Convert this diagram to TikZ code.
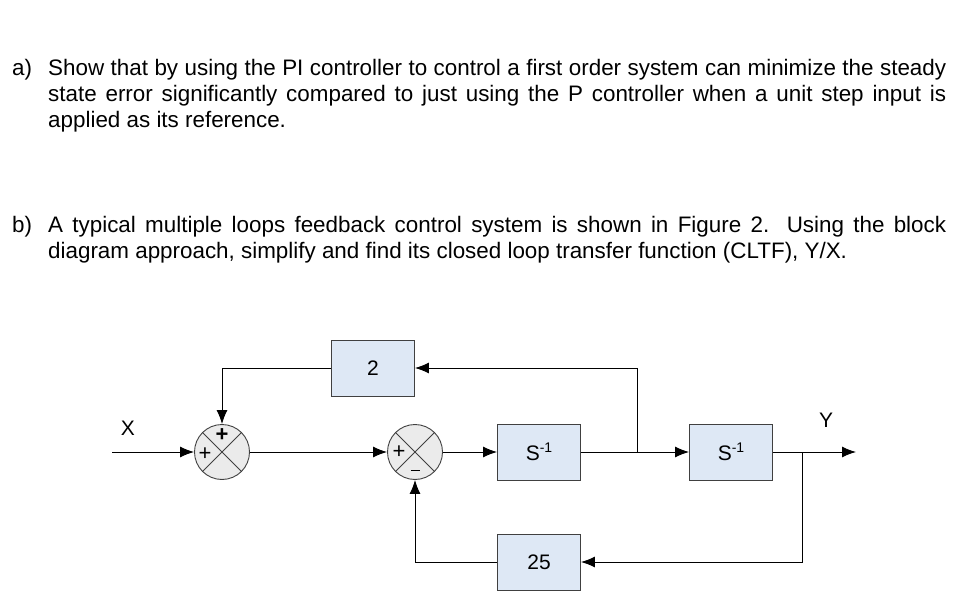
\documentclass[tikz,border=0pt]{standalone}
\usepackage{fontspec}
\setmainfont{Liberation Sans}
\usetikzlibrary{arrows.meta}
\definecolor{bfill}{rgb}{0.87,0.91,0.96}
\begin{document}
\begin{tikzpicture}[x=1pt,y=-1pt,
  blk/.style={draw=black!75,fill=bfill,line width=0.9pt,minimum width=83pt,minimum height=56pt,inner sep=0pt,font=\fontsize{21}{24}\selectfont},
  sumn/.style={draw=black!75,fill=black!8,line width=0.9pt,circle,minimum size=55pt,inner sep=0pt},
  par/.style={anchor=north west,text width=898pt,align=justify,font=\fontsize{22.4}{26}\selectfont,inner sep=0pt},
  sig/.style={-{Latex[length=14pt,width=11pt]},line width=1pt},
  pl/.style={font=\fontsize{22}{22}\selectfont}]
\useasboundingbox (0,0) rectangle (962,607);
\node[anchor=north west,inner sep=0pt,font=\fontsize{22.4}{26}\selectfont] (la) at (12,59) {a)};
\node[par] (pa) at (48,59) {Show that by using the PI controller to control a first order system can minimize the steady state error significantly compared to just using the P controller when a unit step input is applied as its reference.};
\node[anchor=north west,inner sep=0pt,font=\fontsize{22.4}{26}\selectfont] (lb) at (12,216) {b)};
\node[par] (pb) at (48,216) {A typical multiple loops feedback control system is shown in Figure 2. Using the block diagram approach, simplify and find its closed loop transfer function (CLTF), Y/X.};

\node[sumn] (s1) at (222,452) {};
\node[sumn] (s2) at (415,452) {};
\foreach \s in {s1,s2}{
  \draw[black!75,line width=0.9pt] (\s.north west) -- (\s.south east);
  \draw[black!75,line width=0.9pt] (\s.north east) -- (\s.south west);}
\node[pl,font=\bfseries\fontsize{22}{22}\selectfont] (p1) at (222,435) {+};
\node[pl] (p2) at (205,454) {+};
\node[pl] (p3) at (399,452) {+};
\node (m1) at (415,470) {\rule{9pt}{1pt}};

\node[blk] (g1) at (539,452) {S\raisebox{0.7ex}{\fontsize{14}{14}\selectfont -1}};
\node[blk] (g2) at (731,452) {S\raisebox{0.7ex}{\fontsize{14}{14}\selectfont -1}};
\node[blk] (k2) at (373,368) {2};
\node[blk] (k25) at (539,562) {25};

\coordinate (xin) at (112,452);
\coordinate (yout) at (856,452);
\coordinate (b1) at (637,452);
\coordinate (b2) at (802,452);
\node[font=\fontsize{21}{24}\selectfont] (X) at (128,428) {X};
\node[font=\fontsize{21}{24}\selectfont] (Y) at (826,420) {Y};

\draw[sig] (xin) -- (s1);
\draw[sig] (s1) -- (s2);
\draw[sig] (s2) -- (g1);
\draw[sig] (g1) -- (g2);
\draw[sig] (g2) -- (yout);
\draw[sig] (b1) |- (k2);
\draw[sig] (k2) -| (s1);
\draw[sig] (b2) |- (k25);
\draw[sig] (k25) -| (s2);
\end{tikzpicture}
\end{document}
